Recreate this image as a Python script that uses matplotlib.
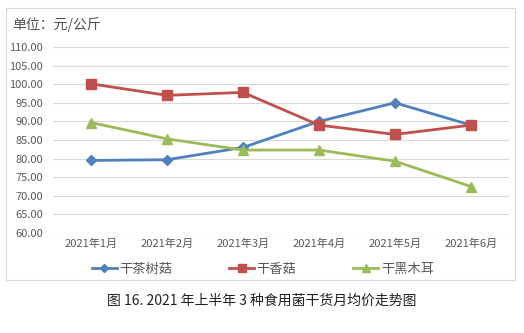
import matplotlib
matplotlib.use("Agg")
import matplotlib.pyplot as plt
from matplotlib.patches import Rectangle

plt.rcParams['font.family'] = ['Noto Sans CJK SC', 'DejaVu Sans']

months = ["2021年1月", "2021年2月", "2021年3月", "2021年4月", "2021年5月", "2021年6月"]
chashugu = [79.5, 79.7, 83.0, 90.0, 95.0, 89.0]
xianggu = [100.1, 97.0, 97.8, 89.0, 86.5, 89.0]
heimuer = [89.7, 85.3, 82.3, 82.3, 79.3, 72.5]
series_names = ["干茶树菇", "干香菇", "干黑木耳"]
yticks = [60, 65, 70, 75, 80, 85, 90, 95, 100, 105, 110]

fig = plt.figure(figsize=(5.24, 3.33), dpi=100)
fig.patches.append(Rectangle((6/524, 1-280/333), 509/524, 272/333, transform=fig.transFigure,
                             fill=False, edgecolor="#d9d9d9", linewidth=0.8))

ax = fig.add_axes([53/524, 1-233/333, 456/524, 186/333])
x = list(range(len(months)))
ax.plot(x, chashugu, color="#4F81BD", marker="D", markersize=5.5, linewidth=2, label=series_names[0])
ax.plot(x, xianggu, color="#C0504D", marker="s", markersize=7, linewidth=2, label=series_names[1])
ax.plot(x, heimuer, color="#9BBB59", marker="^", markersize=7.5, linewidth=2, label=series_names[2])

ax.set_xlim(-0.5, len(months) - 0.5)
ax.set_ylim(60, 110)
ax.set_yticks(yticks)
ax.set_yticklabels([f"{v:.2f}" for v in yticks])
ax.set_xticks(x)
ax.set_xticklabels(months)
ax.tick_params(axis="y", length=0, labelsize=8, colors="#595959", pad=7)
ax.tick_params(axis="x", length=0, labelsize=8, colors="#595959", pad=4)
ax.yaxis.grid(True, color="#d9d9d9", linewidth=0.8)
ax.set_axisbelow(True)
for s in ax.spines.values():
    s.set_visible(False)

fig.text(12/524, 1-25/333, "单位：元/公斤", fontsize=10, color="#505050", va="center")

ax.legend(loc="center", bbox_to_anchor=(0.46, -0.195), ncol=3, frameon=False,
          fontsize=9.5, handlelength=1.9, columnspacing=4.3, labelcolor="#595959",
          handletextpad=0.2, markerscale=0.75)

fig.text(0.5, 1-301/333, "图 16. 2021 年上半年 3 种食用菌干货月均价走势图", fontsize=10,
         color="#222222", ha="center", va="center")

fig.savefig("out.png", dpi=100)
